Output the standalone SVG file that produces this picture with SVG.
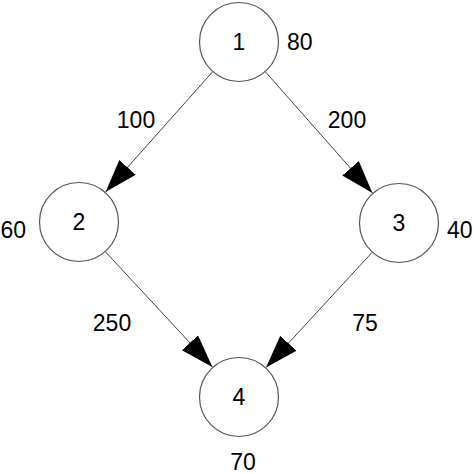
<svg xmlns="http://www.w3.org/2000/svg" width="474" height="474" viewBox="0 0 474 474">
<style>
.n{fill:#fff;stroke:#555;stroke-width:1.2}
.t{font-family:"Liberation Sans",Arial,sans-serif;font-size:23px;fill:#000}
.e{stroke:#444;stroke-width:1}
</style>
<defs>
<marker id="ah" markerUnits="userSpaceOnUse" markerWidth="34" markerHeight="24" refX="33" refY="11" orient="auto">
<path d="M0,0 L33,11 L0,22 Z" fill="#000"/>
</marker>
</defs>
<rect width="474" height="474" fill="#fff"/>
<g id="edges">
<line class="e" x1="212.4" y1="72" x2="105.6" y2="192" marker-end="url(#ah)"/>
<line class="e" x1="265.6" y1="72" x2="372.4" y2="193" marker-end="url(#ah)"/>
<line class="e" x1="105.6" y1="252" x2="212.4" y2="367" marker-end="url(#ah)"/>
<line class="e" x1="372" y1="252.5" x2="266" y2="367.5" marker-end="url(#ah)"/>
<text class="t" x="136" y="128" text-anchor="middle">100</text>
<text class="t" x="347" y="128" text-anchor="middle">200</text>
<text class="t" x="112" y="331" text-anchor="middle">250</text>
<text class="t" x="365" y="331" text-anchor="middle">75</text>
</g>
<g id="node1">
<circle class="n" cx="239" cy="42" r="39.5"/>
<text class="t" x="239" y="50" text-anchor="middle">1</text>
<text class="t" x="287" y="50">80</text>
</g>
<g id="node2">
<circle class="n" cx="79" cy="222" r="39.5"/>
<text class="t" x="79" y="230" text-anchor="middle">2</text>
<text class="t" x="26" y="238" text-anchor="end">60</text>
</g>
<g id="node3">
<circle class="n" cx="399" cy="223" r="39.5"/>
<text class="t" x="399" y="231" text-anchor="middle">3</text>
<text class="t" x="447" y="238">40</text>
</g>
<g id="node4">
<circle class="n" cx="239" cy="397" r="39.5"/>
<text class="t" x="239" y="405" text-anchor="middle">4</text>
<text class="t" x="243" y="470" text-anchor="middle">70</text>
</g>
</svg>
